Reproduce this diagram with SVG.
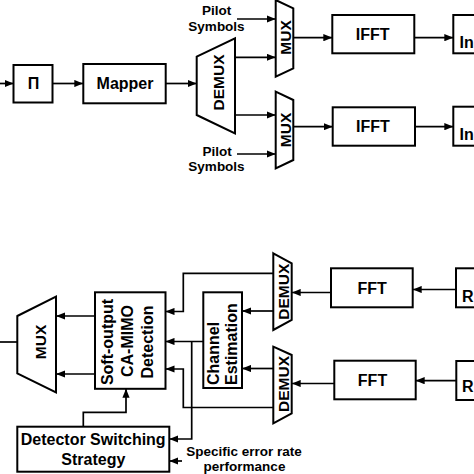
<svg xmlns="http://www.w3.org/2000/svg" width="474" height="474" viewBox="0 0 474 474">
<style>
.box{fill:#fff;stroke:#000;stroke-width:2}
.trap{fill:#fff;stroke:#000;stroke-width:2;stroke-linejoin:miter}
.c{fill:none;stroke:#000;stroke-width:1.7}
.a{marker-end:url(#ah)}
text{font-family:"Liberation Sans",Arial,sans-serif;font-weight:bold;fill:#000}
.t16{font-size:16px}
.t15{font-size:15.5px}
.t13{font-size:13.5px}
.mid{text-anchor:middle}
</style>
<defs>
<marker id="ah" viewBox="0 0 10 8" refX="10" refY="4" markerWidth="9" markerHeight="7.5" markerUnits="userSpaceOnUse" orient="auto">
<path d="M0,0 L10,4 L0,8 Z" fill="#000"/>
</marker>
</defs>
<rect width="474" height="474" fill="#fff"/>

<!-- Transmitter -->
<g id="interleaver"><rect class="box" x="13.5" y="65" width="39" height="37.5"/><text class="t16 mid" x="33.5" y="88.5">Π</text></g>
<g id="mapper"><rect class="box" x="83.3" y="64" width="82.4" height="39.3"/><text class="t16 mid" x="125" y="89">Mapper</text></g>
<g id="demux-tx"><polygon class="trap" points="196.7,56.7 235,38.3 235,133.3 196.7,115"/><text class="t15 mid" transform="translate(218.3,82.5) rotate(-90)" dy="0.36em">DEMUX</text></g>
<g id="mux-tx1"><polygon class="trap" points="275.7,0 293.3,8.3 293.3,68.3 275.7,76.6"/><text class="t15 mid" transform="translate(285,37.5) rotate(-90)" dy="0.36em">MUX</text></g>
<g id="mux-tx2"><polygon class="trap" points="275.7,91.7 293.3,100 293.3,160 275.7,168.3"/><text class="t15 mid" transform="translate(285,130) rotate(-90)" dy="0.36em">MUX</text></g>
<g id="pilot1"><text class="t13 mid" x="216.5" y="15">Pilot</text><text class="t13 mid" x="216.5" y="30.5">Symbols</text></g>
<g id="pilot2"><text class="t13 mid" x="217" y="156">Pilot</text><text class="t13 mid" x="216.5" y="171">Symbols</text></g>
<g id="ifft1"><rect class="box" x="332.3" y="15" width="82" height="38.3"/><text class="t16 mid" x="372.7" y="39.5">IFFT</text></g>
<g id="ifft2"><rect class="box" x="332.7" y="107.3" width="82.3" height="38.4"/><text class="t16 mid" x="373" y="131.7">IFFT</text></g>
<g id="in1"><rect class="box" x="453.3" y="15" width="30" height="38.3"/><text class="t16" x="459.5" y="48.3">In</text></g>
<g id="in2"><rect class="box" x="453.3" y="106.7" width="30" height="39"/><text class="t16" x="459.5" y="140">In</text></g>

<!-- Receiver -->
<g id="r1"><rect class="box" x="456" y="268.3" width="30" height="39"/><text class="t16" x="462" y="301.7">R</text></g>
<g id="r2"><rect class="box" x="456.3" y="361" width="30" height="39"/><text class="t16" x="462" y="392.3">R</text></g>
<g id="fft1"><rect class="box" x="331" y="268.3" width="81.7" height="39"/><text class="t16 mid" x="372.2" y="293.5">FFT</text></g>
<g id="fft2"><rect class="box" x="334.3" y="360.7" width="81.4" height="38.6"/><text class="t16 mid" x="372.5" y="385.5">FFT</text></g>
<g id="demux-rx1"><polygon class="trap" points="273.3,253.3 291.7,263.3 291.7,320 273.3,330"/><text class="t15 mid" transform="translate(283.3,291.7) rotate(-90)" dy="0.36em">DEMUX</text></g>
<g id="demux-rx2"><polygon class="trap" points="273.3,346.7 291.7,355 291.7,413.3 273.3,423.3"/><text class="t15 mid" transform="translate(283.3,384) rotate(-90)" dy="0.36em">DEMUX</text></g>
<g id="channel-est"><rect class="box" x="203.3" y="292.3" width="38.7" height="95.7"/>
<text class="t16" transform="translate(213.3,385) rotate(-90)" dy="0.36em">Channel</text>
<text class="t16" transform="translate(231,385) rotate(-90)" dy="0.36em">Estimation</text></g>
<g id="detection"><rect class="box" x="95" y="292.3" width="70.5" height="96.5"/>
<text class="t16 mid" transform="translate(107.3,342) rotate(-90)" dy="0.36em">Soft-output</text>
<text class="t16 mid" transform="translate(127.7,341) rotate(-90)" dy="0.36em">CA-MIMO</text>
<text class="t16 mid" transform="translate(147,342) rotate(-90)" dy="0.36em">Detection</text></g>
<g id="mux-rx"><polygon class="trap" points="17.3,316 56,296.7 56,392.3 17.3,373.3"/><text class="t15 mid" transform="translate(40,342) rotate(-90)" dy="0.36em">MUX</text></g>
<g id="switching"><rect class="box" x="17.3" y="426.7" width="152" height="45"/>
<text class="t16 mid" x="93.2" y="445">Detector Switching</text>
<text class="t16 mid" x="93.3" y="465">Strategy</text></g>
<g id="perf-label"><text class="t13 mid" x="244" y="455.5">Specific error rate</text><text class="t13 mid" x="244.5" y="470.5">performance</text></g>

<g id="connectors">
<line class="c a" x1="0" y1="83.5" x2="13.5" y2="83.5"/>
<line class="c a" x1="52.5" y1="83.5" x2="83.3" y2="83.5"/>
<line class="c a" x1="165.7" y1="83.5" x2="196.7" y2="83.5"/>
<line class="c a" x1="235" y1="57.3" x2="275.7" y2="57.3"/>
<line class="c a" x1="235" y1="115" x2="275.7" y2="115"/>
<line class="c a" x1="237" y1="19" x2="275.7" y2="19"/>
<line class="c a" x1="237" y1="154" x2="275.7" y2="154"/>
<line class="c a" x1="293.3" y1="37.7" x2="332.3" y2="37.7"/>
<line class="c a" x1="414.3" y1="37.7" x2="453.3" y2="37.7"/>
<line class="c a" x1="293.3" y1="126.7" x2="332.7" y2="126.7"/>
<line class="c a" x1="415" y1="126.7" x2="453.3" y2="126.7"/>

<line class="c a" x1="456" y1="289.5" x2="412.7" y2="289.5"/>
<line class="c a" x1="331" y1="292.5" x2="291.7" y2="292.5"/>
<line class="c a" x1="456.3" y1="380.7" x2="415.7" y2="380.7"/>
<line class="c a" x1="334.3" y1="383.5" x2="291.7" y2="383.5"/>
<polyline class="c a" points="273.3,273.3 183.3,273.3 183.3,311.5 165.5,311.5"/>
<line class="c a" x1="273.3" y1="311" x2="242" y2="311"/>
<line class="c a" x1="273.3" y1="368.5" x2="242" y2="368.5"/>
<polyline class="c a" points="273.3,407.5 183.3,407.5 183.3,369 165.5,369"/>
<line class="c a" x1="203.3" y1="341.5" x2="165.5" y2="341.5"/>
<polyline class="c a" points="191.7,341.5 191.7,439 169.3,439"/>
<line class="c a" x1="182" y1="461" x2="169.3" y2="461"/>
<polyline class="c a" points="83.3,426.7 83.3,412.3 126,412.3 126,388.8"/>
<line class="c a" x1="95" y1="316" x2="56" y2="316"/>
<line class="c a" x1="95" y1="374" x2="56" y2="374"/>
<line class="c" x1="17.3" y1="342" x2="0" y2="342"/>
</g>
</svg>
